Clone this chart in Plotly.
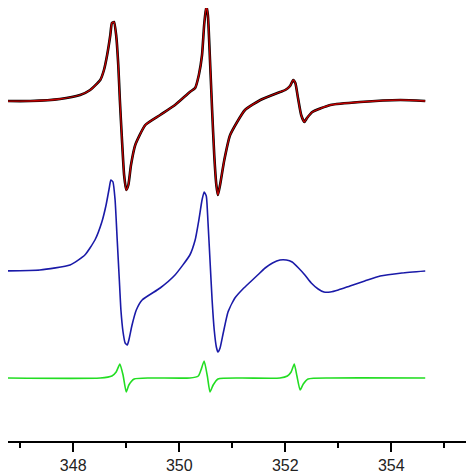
import plotly.graph_objects as go

# Magnetic field (mT) and intensity (arb. units)
exp_x = [346.62,347.19,347.75,348.13,348.32,348.51,348.58,348.64,348.70,348.73,348.77,348.81,348.85,348.88,348.92,348.96,349.00,349.04,349.09,349.17,349.36,349.64,349.92,350.20,350.30,350.37,350.43,350.47,350.51,350.54,350.58,350.62,350.66,350.70,350.73,350.77,350.85,350.96,351.24,351.53,351.90,352.00,352.09,352.15,352.19,352.24,352.30,352.36,352.41,352.51,352.85,353.41,354.17,354.64]
exp_y = [340,340,342,346,351,361,371,386,406,418,419,406,376,341,301,266,251,256,276,296,316,326,336,349,353,366,386,416,435,426,381,331,286,256,246,256,281,306,331,341,349,351,355,361,358,343,326,319,323,329,336,339,341,340]

sim1_x = [346.62,347.37,347.94,348.22,348.41,348.54,348.62,348.68,348.71,348.75,348.79,348.83,348.87,348.90,348.94,348.98,349.02,349.05,349.11,349.19,349.30,349.64,349.92,350.20,350.30,350.37,350.43,350.47,350.51,350.54,350.58,350.62,350.66,350.70,350.73,350.77,350.83,350.92,351.05,351.20,351.34,351.48,351.62,351.76,351.90,352.02,352.13,352.25,352.37,352.49,352.62,352.73,352.85,353.00,353.22,353.50,353.79,354.20,354.64]
sim1_y = [170,171,176,186,201,219,236,253,261,259,241,201,161,131,109,98,96,101,116,131,141,153,166,186,201,221,241,249,245,221,181,141,111,94,89,93,108,129,143,152,159,166,173,178,181,181,179,173,166,158,152,149,149,151,155,160,165,168,170]

sim2_x = [346.62,348.51,348.73,348.81,348.88,348.94,349.00,349.05,349.15,349.45,350.20,350.36,350.41,350.47,350.53,350.58,350.64,350.73,351.15,351.90,352.04,352.11,352.17,352.22,352.28,352.34,352.43,352.85,354.64]
sim2_y = [63,63,65,69,77,66,49,56,62,63,63,65,71,80,65,49,56,62,63,63,65,69,77,65,51,57,62,63,63]

tick_vals = [348, 350, 352, 354]

fig = go.Figure()
fig.add_trace(go.Scatter(x=exp_x, y=exp_y, mode="lines", line=dict(color="black", width=2.6, shape="spline", smoothing=0.5)))
fig.add_trace(go.Scatter(x=exp_x, y=exp_y, mode="lines", line=dict(color="#c00000", width=1.3, shape="spline", smoothing=0.5)))
fig.add_trace(go.Scatter(x=sim1_x, y=sim1_y, mode="lines", line=dict(color="#1a1aa8", width=1.6, shape="spline", smoothing=0.5)))
fig.add_trace(go.Scatter(x=sim2_x, y=sim2_y, mode="lines", line=dict(color="#22dd22", width=1.6, shape="spline", smoothing=0.5)))

fig.update_layout(
    width=466, height=466, showlegend=False,
    margin=dict(l=0, r=0, t=0, b=33, pad=0, autoexpand=False),
    plot_bgcolor="white", paper_bgcolor="white",
    xaxis=dict(range=[346.77, 355.56], tickvals=tick_vals, ticks="outside", ticklen=9, tickwidth=1.5,
               tickcolor="black", showline=True, linecolor="black", linewidth=1.5, showgrid=False, zeroline=False,
               tickfont=dict(family="Liberation Sans, Arial", size=16, color="#222"),
               minor=dict(dtick=1, tick0=347, ticks="outside", ticklen=5, tickwidth=1.5, tickcolor="black")),
    yaxis=dict(range=[0, 433], visible=False),
)
fig.write_html("out.html")
